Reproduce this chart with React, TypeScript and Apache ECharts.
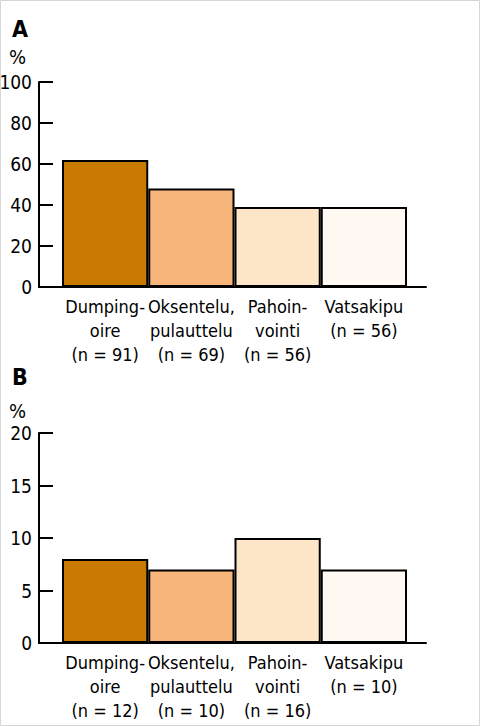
import { useEffect, useRef } from "react";
import * as echarts from "echarts";

const CATEGORIES_A = ["Dumping-\noire\n(n = 91)", "Oksentelu,\npulauttelu\n(n = 69)", "Pahoin-\nvointi\n(n = 56)", "Vatsakipu\n(n = 56)"];
const VALUES_A = [62, 48, 39, 39];
const CATEGORIES_B = ["Dumping-\noire\n(n = 12)", "Oksentelu,\npulauttelu\n(n = 10)", "Pahoin-\nvointi\n(n = 16)", "Vatsakipu\n(n = 10)"];
const VALUES_B = [8, 7, 10, 7];
const BAR_COLORS = ["#c87b00", "#f7b57c", "#fde5c7", "#fff9f1"];

const FONT = "'DejaVu Sans Condensed', 'Liberation Sans Narrow', Arial, sans-serif";

export default function App() {
    const chartRef = useRef<HTMLDivElement>(null);

    useEffect(() => {
        document.body.style.margin = "0";
        if (!chartRef.current) return;
        const chart = echarts.init(chartRef.current, null, { renderer: "svg" });

        // frame grid (axes lines + y ticks) and bar grid (narrower, bars touch each other)
        const frameAxes = (gridIndex: number, max: number, interval: number) => ({
            x: {
                type: "value",
                gridIndex,
                min: 0,
                max: 1,
                axisLine: { show: true, lineStyle: { color: "#000", width: 2 } },
                axisTick: { show: false },
                axisLabel: { show: false },
                splitLine: { show: false },
            },
            y: {
                type: "value",
                gridIndex,
                min: 0,
                max,
                interval,
                axisLine: { show: true, lineStyle: { color: "#000", width: 2 } },
                axisTick: { show: true, inside: true, length: 14, lineStyle: { color: "#000", width: 2 } },
                axisLabel: { color: "#000", fontSize: 19, fontFamily: FONT, margin: 7 },
                splitLine: { show: false },
            },
        });
        const barAxes = (gridIndex: number, cats: string[], max: number) => ({
            x: {
                type: "category",
                gridIndex,
                data: cats,
                axisLine: { show: false },
                axisTick: { show: false },
                axisLabel: {
                    interval: 0,
                    color: "#000",
                    fontSize: 18,
                    lineHeight: 24,
                    fontFamily: FONT,
                    margin: 7,
                    verticalAlign: "top",
                },
            },
            y: { type: "value", gridIndex, min: 0, max, show: false },
        });

        const fA = frameAxes(0, 100, 20);
        const bA = barAxes(1, CATEGORIES_A, 100);
        const fB = frameAxes(2, 20, 5);
        const bB = barAxes(3, CATEGORIES_B, 20);

        const barSeries = (idx: number, values: number[]) => ({
            type: "bar",
            xAxisIndex: idx,
            yAxisIndex: idx,
            barWidth: "100%",
            data: values.map((v, i) => ({
                value: v,
                itemStyle: { color: BAR_COLORS[i], borderColor: "#000", borderWidth: 2 },
            })),
        });

        const letter = (text: string, top: number) => ({
            type: "text",
            left: 12,
            top,
            style: { text, fontSize: 23, fontWeight: "bold", fontFamily: FONT, fill: "#000" },
        });
        const pct = (top: number) => ({
            type: "text",
            left: 9,
            top,
            style: { text: "%", fontSize: 20, fontFamily: FONT, fill: "#000" },
        });

        const g = { outerBoundsMode: "none" };

        chart.setOption({
            animation: false,
            backgroundColor: "#fff",
            grid: [
                { ...g, left: 39, top: 82, width: 387, height: 205 },
                { ...g, left: 62, top: 82, width: 345, height: 205 },
                { ...g, left: 39, top: 433, width: 387, height: 210 },
                { ...g, left: 62, top: 433, width: 345, height: 210 },
            ],
            xAxis: [fA.x, bA.x, fB.x, bB.x],
            yAxis: [fA.y, bA.y, fB.y, bB.y],
            series: [barSeries(1, VALUES_A), barSeries(3, VALUES_B)],
            graphic: [
                {
                    type: "rect",
                    shape: { x: 0.5, y: 0.5, width: 479, height: 725 },
                    style: { fill: "none", stroke: "#d6d6d6", lineWidth: 1 },
                    silent: true,
                },
                letter("A", 17),
                pct(47),
                letter("B", 365),
                pct(401),
            ],
        });

        return () => {
            chart.dispose();
        };
    }, []);

    return <div ref={chartRef} style={{ width: 480, height: 726 }} />;
}
